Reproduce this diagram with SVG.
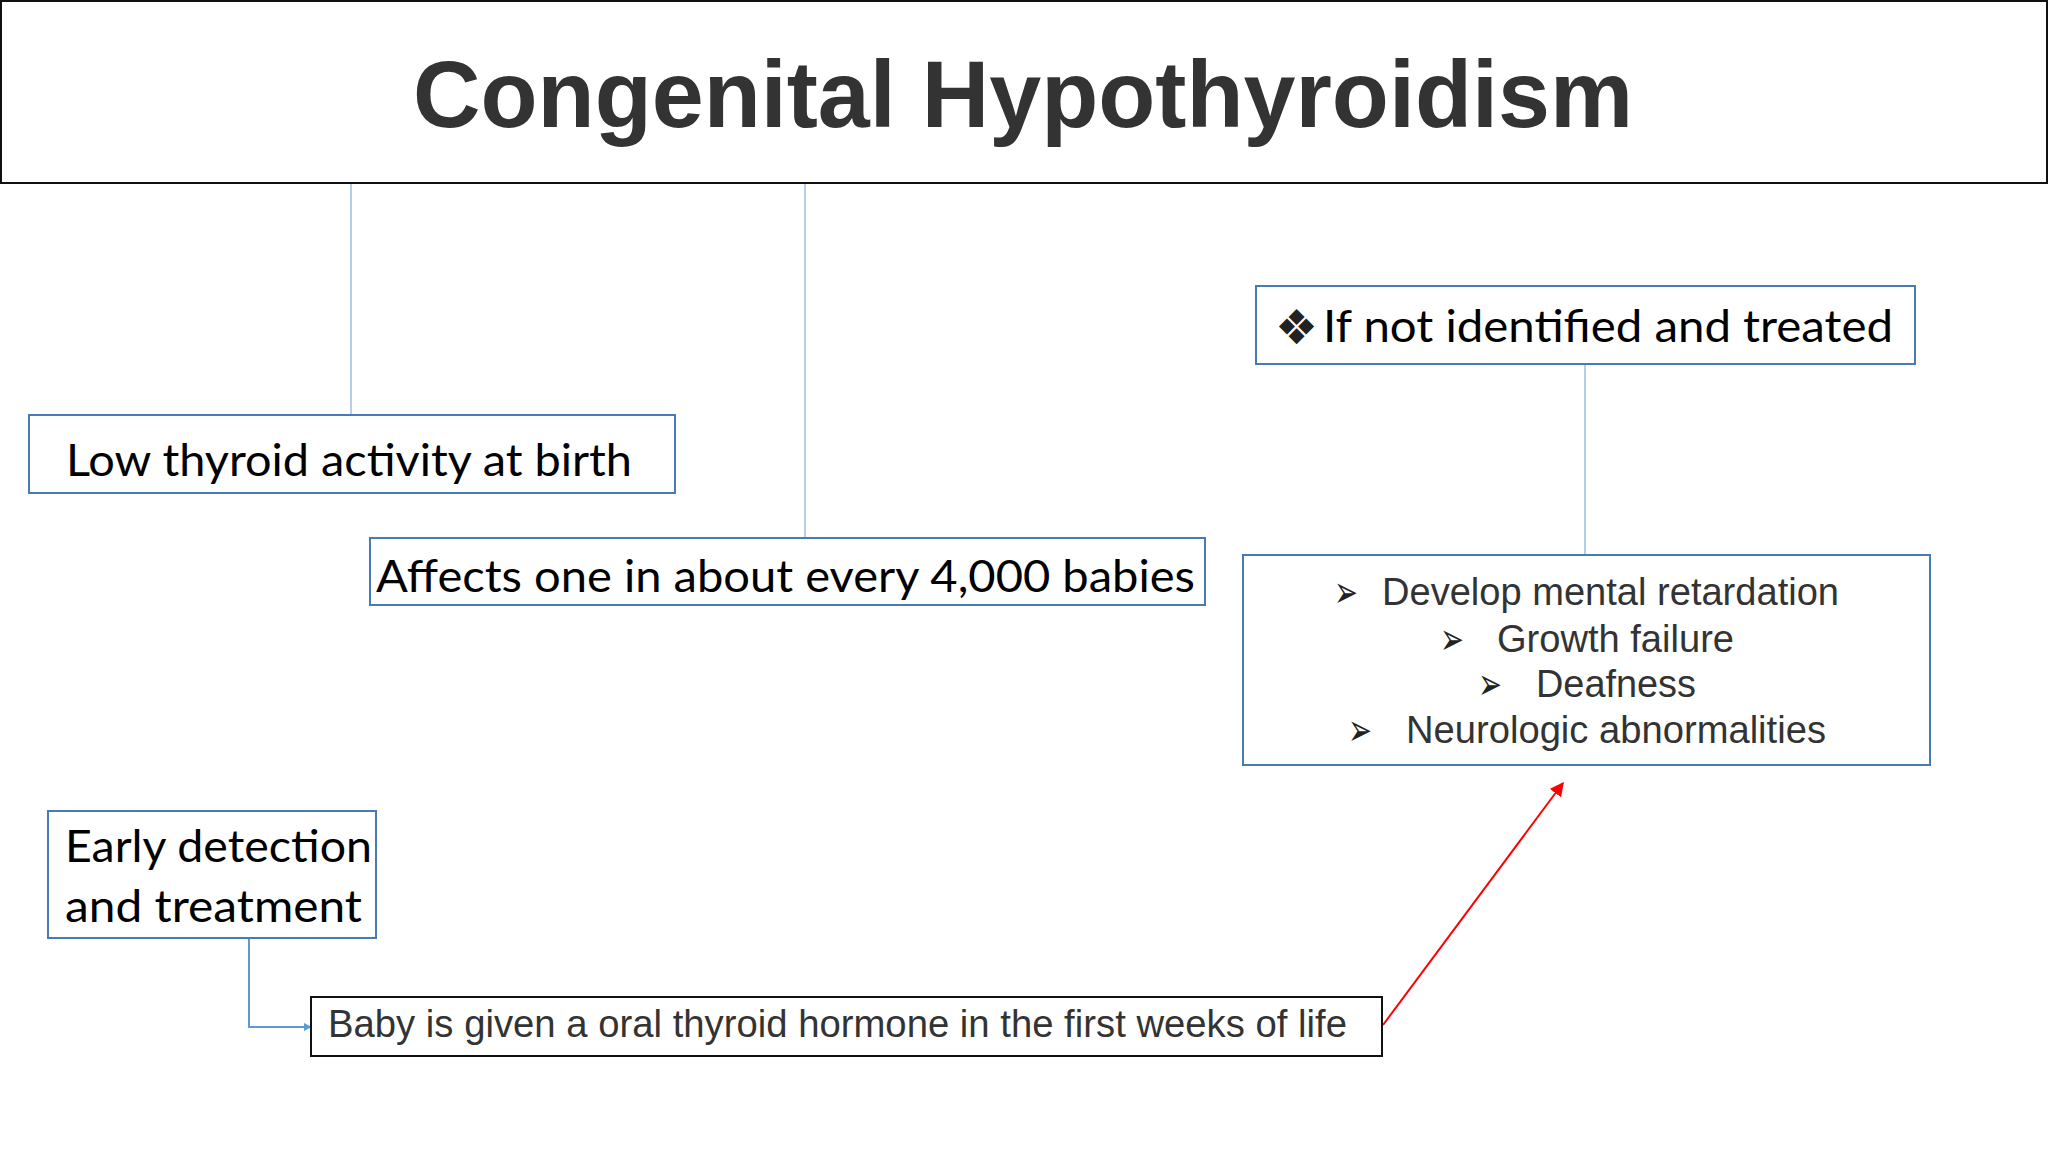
<svg xmlns="http://www.w3.org/2000/svg" width="2048" height="1152" viewBox="0 0 2048 1152">
<defs>
<style>
.box{fill:#ffffff;stroke:#4a7ab5;stroke-width:2}
.blk{fill:#ffffff;stroke:#111111;stroke-width:2}
.cal{font-family:Lato,"Open Sans","Liberation Sans",sans-serif;font-size:45px;fill:#000000}
.ari{font-family:"Liberation Sans",Arial,sans-serif;font-size:38px;fill:#333333}
.sym{font-family:"DejaVu Sans",sans-serif;fill:#222222}
.bul{font-family:"DejaVu Sans",sans-serif;font-size:44px;fill:#222222}
.conn{fill:none;stroke:#9dbfe0;stroke-width:1.5}
</style>
<marker id="ab" viewBox="0 0 10 10" refX="9" refY="5" markerWidth="8" markerHeight="8" orient="auto" markerUnits="userSpaceOnUse">
<path d="M0,0 L10,5 L0,10 z" fill="#5b9bd5"/>
</marker>
<marker id="ar" viewBox="0 0 10 10" refX="9" refY="5" markerWidth="14" markerHeight="14" orient="auto" markerUnits="userSpaceOnUse">
<path d="M0,0 L10,5 L0,10 z" fill="#ff0000"/>
</marker>
</defs>
<rect x="0" y="0" width="2048" height="1152" fill="#ffffff"/>
<g id="connectors">
<line class="conn" x1="351" y1="184" x2="351" y2="415"/>
<line class="conn" x1="805" y1="184" x2="805" y2="538"/>
<line class="conn" x1="1585" y1="364" x2="1585" y2="555"/>
<polyline points="249,938 249,1027 311,1027" fill="none" stroke="#5b9bd5" stroke-width="2" marker-end="url(#ab)"/>
<line x1="1383" y1="1025" x2="1563" y2="783" stroke="#ff0000" stroke-width="2" marker-end="url(#ar)"/>
</g>
<g id="title">
<rect x="1" y="1" width="2046" height="182" fill="#ffffff" stroke="#111111" stroke-width="2"/>
<text x="413" y="127" font-family="'Liberation Sans',Arial,sans-serif" font-weight="bold" font-size="95" fill="#333333" textLength="1220" lengthAdjust="spacingAndGlyphs">Congenital Hypothyroidism</text>
</g>
<g id="low-thyroid">
<rect class="box" x="29" y="415" width="646" height="78"/>
<text class="cal" x="66" y="476" textLength="566" lengthAdjust="spacingAndGlyphs">Low thyroid activity at birth</text>
</g>
<g id="affects">
<rect class="box" x="370" y="538" width="835" height="67"/>
<text class="cal" x="376" y="592" textLength="819" lengthAdjust="spacingAndGlyphs">Affects one in about every 4,000 babies</text>
</g>
<g id="if-not">
<rect class="box" x="1256" y="286" width="659" height="78"/>
<text class="sym" x="1275" y="344" font-size="48">❖</text>
<text class="cal" x="1323" y="342" textLength="570" lengthAdjust="spacingAndGlyphs">If not identified and treated</text>
</g>
<g id="effects">
<rect class="box" x="1243" y="555" width="687" height="210"/>
<text class="bul" x="1334" y="607" textLength="24" lengthAdjust="spacingAndGlyphs">➢</text>
<text class="ari" x="1382" y="605" textLength="457" lengthAdjust="spacingAndGlyphs">Develop mental retardation</text>
<text class="bul" x="1440" y="654" textLength="24" lengthAdjust="spacingAndGlyphs">➢</text>
<text class="ari" x="1497" y="652" textLength="237" lengthAdjust="spacingAndGlyphs">Growth failure</text>
<text class="bul" x="1478" y="699" textLength="24" lengthAdjust="spacingAndGlyphs">➢</text>
<text class="ari" x="1536" y="697" textLength="160" lengthAdjust="spacingAndGlyphs">Deafness</text>
<text class="bul" x="1348" y="745" textLength="24" lengthAdjust="spacingAndGlyphs">➢</text>
<text class="ari" x="1406" y="743" textLength="420" lengthAdjust="spacingAndGlyphs">Neurologic abnormalities</text>
</g>
<g id="early">
<rect class="box" x="48" y="811" width="328" height="127"/>
<text class="cal" x="65" y="862" textLength="307" lengthAdjust="spacingAndGlyphs">Early detection</text>
<text class="cal" x="65" y="922" textLength="297" lengthAdjust="spacingAndGlyphs">and treatment</text>
</g>
<g id="baby">
<rect class="blk" x="311" y="997" width="1071" height="59"/>
<text class="ari" x="328" y="1037" textLength="1019" lengthAdjust="spacingAndGlyphs">Baby is given a oral thyroid hormone in the first weeks of life</text>
</g>
</svg>
